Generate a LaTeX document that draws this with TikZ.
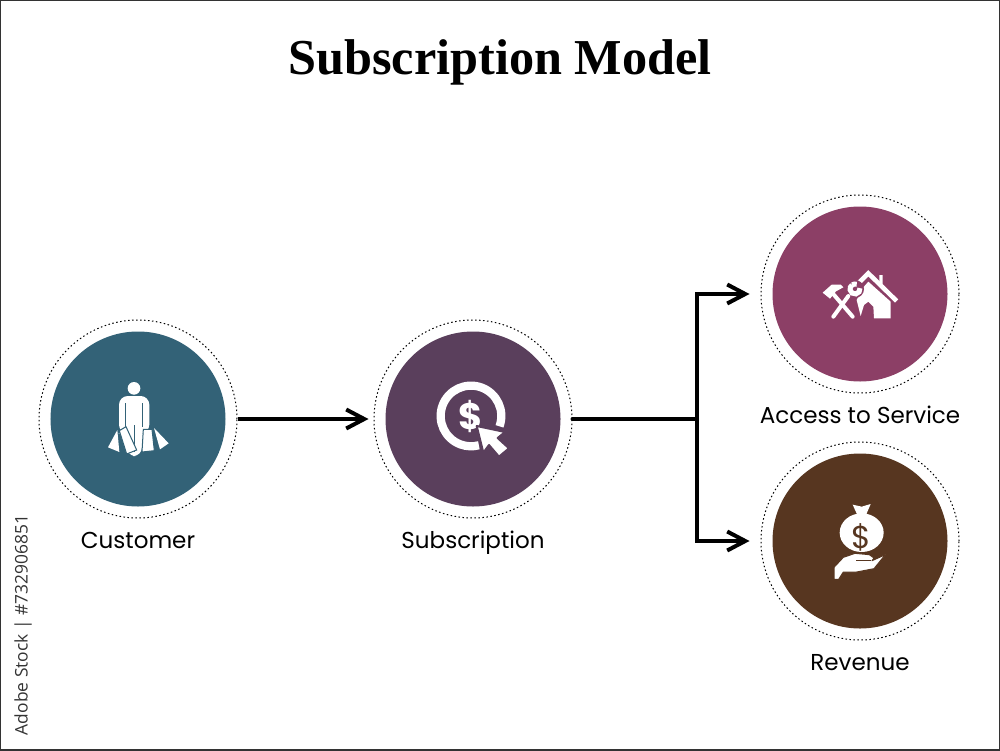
\documentclass[tikz,border=0pt]{standalone}
\usepackage{fontspec}
\setmainfont{Poppins}
\newfontfamily\titlefont{Liberation Serif}
\newfontfamily\sidefont{Open Sans}
\usetikzlibrary{positioning, arrows.meta}
\definecolor{customer_col}{HTML}{336277}
\definecolor{subscription_col}{HTML}{5A3F5C}
\definecolor{access_col}{HTML}{8C3F66}
\definecolor{revenue_col}{HTML}{573620}

\begin{document}
\begin{tikzpicture}
[
    x=0.2mm, y=-0.2mm,
    node distance=24.8mm and 67mm, on grid,
    ring_node/.style={circle, draw=black, line width=0.2mm, dash pattern=on 0.3mm off 0.5mm, minimum size=39.6mm, inner sep=0pt},
    disc_node/.style={circle, fill=#1, minimum size=35mm, inner sep=0pt},
    name_node/.style={inner sep=0pt, text height=9pt, text depth=3pt, font=\fontsize{13.1}{15}\selectfont},
    link/.style={line width=0.8mm, color=black},
    link_tip/.style={link, -{Straight Barb[length=3.6mm, width=3.8mm, line width=0.8mm]}},
    icon_line/.style={draw=white, line cap=round},
]
    \useasboundingbox (0,0) rectangle (1000,750);
    \draw[line width=0.5mm, color=black!80] (0,0) rectangle (1000,750);

    \node[font=\titlefont\bfseries\fontsize{28.6}{32}\selectfont, inner sep=0pt] (title) at (500,62) {Subscription Model};
    \node[font=\sidefont\fontsize{9.9}{11}\selectfont, color=black!80, rotate=90, inner sep=0pt] (stock) at (23,625) {Adobe Stock | \#732906851};

    \node[ring_node] (customer_ring) at (138,419) {};
    \node[ring_node] (subscription_ring) [right = of customer_ring] {};
    \node[ring_node] (access_ring) at (860,294) {};
    \node[ring_node] (revenue_ring) [below = 49.4mm of access_ring] {};

    \node[disc_node=customer_col] (customer_disc) at (customer_ring) {};
    \node[disc_node=subscription_col] (subscription_disc) at (subscription_ring) {};
    \node[disc_node=access_col] (access_disc) at (access_ring) {};
    \node[disc_node=revenue_col] (revenue_disc) at (revenue_ring) {};

    \node[name_node] (customer) [below = of customer_ring] {Customer};
    \node[name_node] (subscription) [below = of subscription_ring] {Subscription};
    \node[name_node] (access) [below = of access_ring] {Access to Service};
    \node[name_node] (revenue) [below = of revenue_ring] {Revenue};

    \coordinate (branch) at (697,419);
    \draw[link_tip, shorten >=1mm] (customer_ring) -- (subscription_ring);
    \draw[link, line cap=round] (subscription_ring) -- (branch);
    \draw[link_tip, shorten >=2.2mm] (branch) |- (access_ring.west);
    \draw[link_tip, shorten >=2.2mm] (branch) |- (revenue_ring.west);

    % person with bags
    \begin{scope}[shift={(30,310)}, scale=1/3]
        \fill[white] (312,235) circle (19);
        \fill[white, rounded corners=5pt] (267,370) -- (267,258) -- (358,258) -- (358,370) -- (336,370) -- (336,438) -- (290,438) -- (290,370) -- cycle;
        \draw[customer_col, line width=0.3mm] (286,280) -- (286,352) (338,280) -- (338,352) (313,345) -- (313,425);
        \fill[white] (262,360) -- (234,412) -- (268,426) -- cycle;
        \fill[white, draw=customer_col, line width=0.2mm] (268,362) -- (288,350) -- (320,420) -- (290,432) -- cycle;
        \fill[white] (372,354) -- (416,400) -- (390,418) -- cycle;
        \fill[white, draw=customer_col, line width=0.2mm] (340,358) -- (366,358) -- (373,422) -- (336,426) -- cycle;
    \end{scope}

    % coin with cursor
    \begin{scope}[shift={(365,310)}, scale=1/3]
        \draw[white, line width=1.65mm] (403.5,349) arc[start angle=20, end angle=-285, radius=91];
        \node[white, font=\bfseries\fontsize{21}{24}\selectfont, inner sep=0pt] (coin) at (318,320) {\$};
        \fill[white, draw=subscription_col, line width=0.4mm, line join=round] (335,348) -- (420,366) -- (398,384) -- (432,415) -- (402,440) -- (372,405) -- (355,428) -- cycle;
    \end{scope}

    % house with tools
    \begin{scope}[shift={(800,250)}, scale=1/3]
        \fill[white] (205,95) -- (272,155) -- (272,205) -- (222,205) -- (220,170) -- (205,155) -- (192,165) -- (182,198) -- (170,150) -- (190,112) -- cycle;
        \draw[white, line width=0.9mm] (172,103) -- (205,70) -- (290,153);
        \fill[white] (238,75) -- (248,75) -- (248,112) -- (238,102) -- cycle;
        \fill[access_col] (165,117) circle (27);
        \draw[access_col, line width=1.5mm] (145,138) -- (100,200) (120,160) -- (170,205);
        \draw[icon_line, line width=0.8mm] (98,130) -- (158,200);
        \fill[white, line join=round] (68,128) -- (95,104) -- (122,104) -- (130,112) -- (108,124) -- (90,146) -- cycle;
        \draw[icon_line, line width=0.8mm] (145,138) -- (100,200);
        \draw[white, line width=1mm] (179.8,114.4) arc[start angle=-10, end angle=235, radius=15];
        \draw[white, line width=1mm] (165,117) ++(-125:15) arc[start angle=-125, end angle=-70, radius=15];
    \end{scope}

    % money bag on hand
    \begin{scope}[shift={(810,490)}, scale=1/3]
        \fill[white] (128,44) -- (155,50) -- (182,42) -- (168,75) -- (142,75) -- cycle;
        \fill[white] (155,128) ellipse (66 and 58);
        \node[revenue_col, font=\fontsize{18}{20}\selectfont, inner sep=0pt] (bag) at (155,142) {\$};
        \fill[white, draw=revenue_col, line width=0.2mm, line join=round] (72,268) -- (72,232) -- (100,202) -- (135,190) -- (178,194) -- (192,204) -- (186,212) -- (204,204) -- (226,194) -- (192,236) -- (140,246) -- (100,246) -- (86,268) -- cycle;
        \draw[revenue_col, line width=0.3mm] (138,212) -- (184,212);
    \end{scope}
\end{tikzpicture}
\end{document}
